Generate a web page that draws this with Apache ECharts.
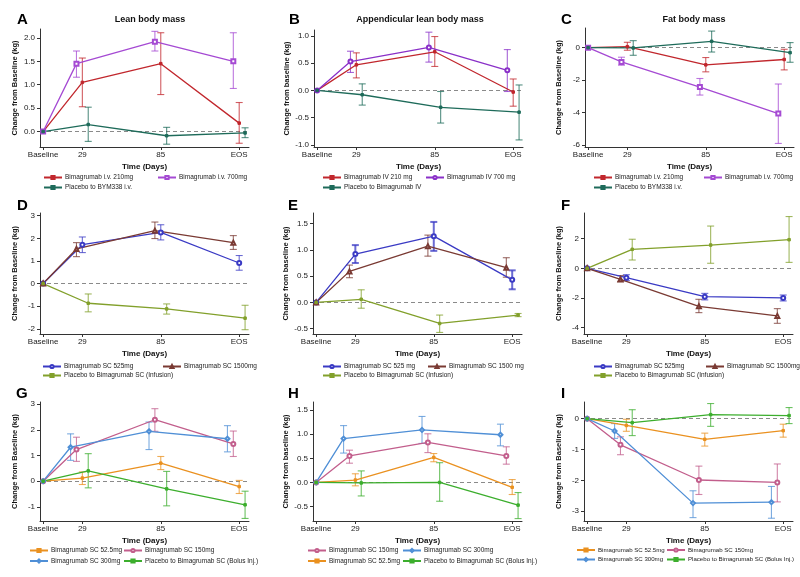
<!DOCTYPE html>
<html><head><meta charset="utf-8">
<script src="https://cdn.jsdelivr.net/npm/echarts@6/dist/echarts.min.js"></script>
<style>html,body{margin:0;padding:0;background:#fff}#c{width:800px;height:577px}</style>
</head><body><div id="c"></div>
<script>
// ---------- shared x categories ----------
const xCats = ['Baseline', '29', '85', 'EOS'];
const xAt = [0, 1, 3, 5];

// ---------- A: Lean body mass ----------
const A_yTicks = [0, 0.5, 1, 1.5, 2];
const A_iv210 = [0, 1.05, 1.45, 0.18];
const A_iv210_lo = [0, 0.53, 0.79, -0.25];
const A_iv210_hi = [0, 1.57, 2.11, 0.62];
const A_iv700 = [0, 1.45, 1.92, 1.50];
const A_iv700_lo = [0, 1.16, 1.72, 0.92];
const A_iv700_hi = [0, 1.72, 2.14, 2.11];
const A_pbo = [0, 0.15, -0.09, -0.03];
const A_pbo_lo = [0, -0.21, -0.27, -0.13];
const A_pbo_hi = [0, 0.52, 0.09, 0.08];

// ---------- B: Appendicular lean body mass ----------
const B_yTicks = [-1, -0.5, 0, 0.5, 1];
const B_iv210 = [0, 0.47, 0.71, -0.03];
const B_iv210_lo = [0, 0.23, 0.44, -0.29];
const B_iv210_hi = [0, 0.69, 0.99, 0.21];
const B_iv700 = [0, 0.53, 0.79, 0.37];
const B_iv700_lo = [0, 0.33, 0.52, -0.02];
const B_iv700_hi = [0, 0.72, 1.07, 0.75];
const B_pbo = [0, -0.08, -0.31, -0.40];
const B_pbo_lo = [0, -0.27, -0.60, -0.91];
const B_pbo_hi = [0, 0.12, -0.02, 0.10];

// ---------- C: Fat body mass ----------
const C_yTicks = [-6, -4, -2, 0];
const C_iv210 = [0, 0.06, -1.06, -0.73];
const C_iv210_lo = [0, -0.16, -1.49, -1.37];
const C_iv210_hi = [0, 0.33, -0.61, -0.10];
const C_iv700 = [0, -0.88, -2.43, -4.06];
const C_iv700_lo = [0, -1.08, -2.92, -5.90];
const C_iv700_hi = [0, -0.59, -1.90, -2.24];
const C_pbo = [0, -0.02, 0.39, -0.31];
const C_pbo_lo = [0, -0.47, -0.27, -0.90];
const C_pbo_hi = [0, 0.43, 1.02, 0.31];

// ---------- D ----------
const D_yTicks = [-2, -1, 0, 1, 2, 3];
const D_sc525 = [0, 1.72, 2.26, 0.91];
const D_sc525_lo = [0, 1.37, 1.93, 0.59];
const D_sc525_hi = [0, 2.06, 2.60, 1.24];
const D_sc1500 = [0, 1.53, 2.34, 1.81];
const D_sc1500_lo = [0, 1.19, 1.99, 1.51];
const D_sc1500_hi = [0, 1.81, 2.72, 2.12];
const D_pbo = [0, -0.87, -1.12, -1.53];
const D_pbo_lo = [0, -1.25, -1.35, -2.04];
const D_pbo_hi = [0, -0.46, -0.90, -0.96];

// ---------- E ----------
const E_yTicks = [-0.5, 0, 0.5, 1, 1.5];
const E_sc525 = [0, 0.92, 1.26, 0.43];
const E_sc525_lo = [0, 0.75, 0.98, 0.25];
const E_sc525_hi = [0, 1.09, 1.53, 0.61];
const E_sc1500 = [0, 0.59, 1.07, 0.66];
const E_sc1500_lo = [0, 0.47, 0.88, 0.48];
const E_sc1500_hi = [0, 0.71, 1.28, 0.85];
const E_pbo = [0, 0.06, -0.40, -0.24];
const E_pbo_lo = [0, -0.11, -0.57, -0.27];
const E_pbo_hi = [0, 0.24, -0.24, -0.21];

// ---------- F ----------
const F_yTicks = [-4, -2, 0, 2];
const F_sc525 = [0, -0.63, -1.91, -2.00];
const F_sc525_lo = [0, -0.83, -2.13, -2.20];
const F_sc525_hi = [0, -0.43, -1.69, -1.80];
const F_sc1500 = [0, -0.74, -2.56, -3.21];
const F_sc1500_lo = [0, -0.92, -2.99, -3.71];
const F_sc1500_hi = [0, -0.49, -2.09, -2.72];
const F_pbo = [0, 1.28, 1.57, 1.93];
const F_pbo_lo = [0, 0.56, 0.34, 0.40];
const F_pbo_hi = [0, 1.96, 2.85, 3.49];

// ---------- G ----------
const G_yTicks = [-1, 0, 1, 2, 3];
const G_sc52 = [0, 0.12, 0.70, -0.21];
const G_sc52_lo = [0, -0.13, 0.45, -0.48];
const G_sc52_hi = [0, 0.36, 0.96, 0.03];
const G_sc150 = [0, 1.23, 2.39, 1.45];
const G_sc150_lo = [0, 0.77, 1.94, 0.96];
const G_sc150_hi = [0, 1.71, 2.82, 1.95];
const G_sc300 = [0, 1.32, 1.94, 1.65];
const G_sc300_lo = [0, 0.81, 1.23, 1.14];
const G_sc300_hi = [0, 1.84, 2.30, 2.16];
const G_pbo = [0, 0.40, -0.30, -0.92];
const G_pbo_lo = [0, -0.26, -0.96, -1.45];
const G_pbo_hi = [0, 1.07, 0.38, -0.39];

// ---------- H ----------
const H_yTicks = [-0.5, 0, 0.5, 1, 1.5];
const H_sc150 = [0, 0.55, 0.83, 0.55];
const H_sc150_lo = [0, 0.40, 0.62, 0.38];
const H_sc150_hi = [0, 0.67, 1.01, 0.74];
const H_sc300 = [0, 0.91, 1.09, 0.99];
const H_sc300_lo = [0, 0.61, 0.81, 0.76];
const H_sc300_hi = [0, 1.18, 1.37, 1.21];
const H_sc52 = [0, 0.05, 0.52, -0.10];
const H_sc52_lo = [0, -0.07, 0.43, -0.25];
const H_sc52_hi = [0, 0.18, 0.60, 0.06];
const H_pbo = [0, -0.01, 0.00, -0.47];
const H_pbo_lo = [0, -0.28, -0.39, -0.75];
const H_pbo_hi = [0, 0.24, 0.41, -0.21];

// ---------- I ----------
const I_yTicks = [-3, -2, -1, 0];
const I_sc52 = [0, -0.22, -0.67, -0.39];
const I_sc52_lo = [0, -0.41, -0.89, -0.60];
const I_sc52_hi = [0, -0.02, -0.47, -0.18];
const I_sc150 = [0, -0.85, -1.99, -2.07];
const I_sc150_lo = [0, -1.17, -2.46, -2.70];
const I_sc150_hi = [0, -0.59, -1.54, -1.47];
const I_sc300 = [0, -0.40, -2.74, -2.71];
const I_sc300_lo = [0, -0.64, -3.21, -3.23];
const I_sc300_hi = [0, -0.16, -2.34, -2.20];
const I_pbo = [0, -0.13, 0.13, 0.10];
const I_pbo_lo = [0, -0.55, -0.25, -0.16];
const I_pbo_hi = [0, 0.29, 0.49, 0.36];

// ---------- styles ----------
const FONT = 'Liberation Sans, Arial, sans-serif';
const RED = '#c1272d', VIO = '#a54ad3', VIO2 = '#8a30c8', TEAL = '#1e6b5a';
const BLUE = '#3a3ac4', BROWN = '#7a3a33', OLIVE = '#82a02b';
const ORANGE = '#ea9120', PINK = '#c25e8c', SKY = '#4f8fd6', GREEN = '#3cae2d';
const STEP = 0.15;
const OPEN = 4, DOT = 2.5;

function S(name, mean, lo, hi, color, symbol, size, off, col) {
  return {name, mean, lo, hi, color, symbol, size, off, col};
}

const panels = [
  {letter: 'A', title: 'Lean body mass', titleX: 145, left: 40, top: 29, bottom: 147, ymin: -0.33, ymax: 2.19, ticks: A_yTicks, dec: 1,
   yName: 'Change from Baseline (kg)', nameGap: 21, legL: [43, 174], legR: [157, 174], legGap: 3,
   series: [
     S('Bimagrumab i.v. 210mg', A_iv210, A_iv210_lo, A_iv210_hi, RED, 'rect', DOT, 0, 'L'),
     S('Bimagrumab i.v. 700mg', A_iv700, A_iv700_lo, A_iv700_hi, VIO, 'emptyRect', OPEN, -1, 'R'),
     S('Placebo to BYM338 i.v.', A_pbo, A_pbo_lo, A_pbo_hi, TEAL, 'rect', DOT, 1, 'L')]},
  {letter: 'B', title: 'Appendicular lean body mass', titleX: 415, left: 314, top: 30, bottom: 147, ymin: -1.04, ymax: 1.11, ticks: B_yTicks, dec: 1,
   yName: 'Change from baseline (kg)', nameGap: 23, legL: [322, 174], legR: [425, 174], legGap: 3,
   series: [
     S('Bimagrumab IV 210 mg', B_iv210, B_iv210_lo, B_iv210_hi, RED, 'rect', DOT, 0, 'L'),
     S('Bimagrumab IV 700 mg', B_iv700, B_iv700_lo, B_iv700_hi, VIO2, 'emptyCircle', OPEN, -1, 'R'),
     S('Placebo to Bimagrumab IV', B_pbo, B_pbo_lo, B_pbo_hi, TEAL, 'rect', DOT, 1, 'L')]},
  {letter: 'C', title: 'Fat body mass', titleX: 689, left: 585, top: 28, bottom: 147, ymin: -6.12, ymax: 1.21, ticks: C_yTicks, dec: 0,
   yName: 'Change from Baseline (kg)', nameGap: 22, legL: [593, 174], legR: [703, 174], legGap: 3,
   series: [
     S('Bimagrumab i.v. 210mg', C_iv210, C_iv210_lo, C_iv210_hi, RED, 'rect', DOT, 0, 'L'),
     S('Bimagrumab i.v. 700mg', C_iv700, C_iv700_lo, C_iv700_hi, VIO, 'emptyRect', OPEN, -1, 'R'),
     S('Placebo to BYM338 i.v.', C_pbo, C_pbo_lo, C_pbo_hi, TEAL, 'rect', DOT, 1, 'L')]},
  {letter: 'D', left: 40, top: 213, bottom: 334, ymin: -2.23, ymax: 3.12, ticks: D_yTicks, dec: 0,
   yName: 'Change from Baseline (kg)', nameGap: 21, legL: [42, 363], legR: [162, 363], legGap: 2,
   series: [
     S('Bimagrumab SC 525mg', D_sc525, D_sc525_lo, D_sc525_hi, BLUE, 'emptyCircle', OPEN, 0, 'L'),
     S('Bimagrumab SC 1500mg', D_sc1500, D_sc1500_lo, D_sc1500_hi, BROWN, 'emptyTriangle', OPEN, -1, 'R'),
     S('Placebo to Bimagrumab SC (Infusion)', D_pbo, D_pbo_lo, D_pbo_hi, OLIVE, 'rect', DOT, 1, 'L')]},
  {letter: 'E', left: 313, top: 213, bottom: 334, ymin: -0.60, ymax: 1.70, ticks: E_yTicks, dec: 1,
   yName: 'Change from baseline (kg)', nameGap: 22, legL: [322, 363], legR: [427, 363], legGap: 2,
   series: [
     S('Bimagrumab SC 525 mg', E_sc525, E_sc525_lo, E_sc525_hi, BLUE, 'emptyCircle', OPEN, 0, 'L'),
     S('Bimagrumab SC 1500 mg', E_sc1500, E_sc1500_lo, E_sc1500_hi, BROWN, 'emptyTriangle', OPEN, -1, 'R'),
     S('Placebo to Bimagrumab SC (Infusion)', E_pbo, E_pbo_lo, E_pbo_hi, OLIVE, 'rect', DOT, 1, 'L')]},
  {letter: 'F', left: 584, top: 213, bottom: 334, ymin: -4.43, ymax: 3.73, ticks: F_yTicks, dec: 0,
   yName: 'Change from Baseline (kg)', nameGap: 21, legL: [593, 363], legR: [705, 363], legGap: 2,
   series: [
     S('Bimagrumab SC 525mg', F_sc525, F_sc525_lo, F_sc525_hi, BLUE, 'emptyCircle', OPEN, 0, 'L'),
     S('Bimagrumab SC 1500mg', F_sc1500, F_sc1500_lo, F_sc1500_hi, BROWN, 'emptyTriangle', OPEN, -1, 'R'),
     S('Placebo to Bimagrumab SC (Infusion)', F_pbo, F_pbo_lo, F_pbo_hi, OLIVE, 'rect', DOT, 1, 'L')]},
  {letter: 'G', left: 40, top: 402, bottom: 521, ymin: -1.55, ymax: 3.08, ticks: G_yTicks, dec: 0,
   yName: 'Change from Baseline (kg)', nameGap: 21, legL: [29, 547], legR: [123, 547], legGap: 3.5,
   series: [
     S('Bimagrumab SC 52.5mg', G_sc52, G_sc52_lo, G_sc52_hi, ORANGE, 'rect', DOT, 0, 'L'),
     S('Bimagrumab SC 150mg', G_sc150, G_sc150_lo, G_sc150_hi, PINK, 'emptyCircle', OPEN, -1, 'R'),
     S('Bimagrumab SC 300mg', G_sc300, G_sc300_lo, G_sc300_hi, SKY, 'emptyDiamond', OPEN, -2, 'L'),
     S('Placebo to Bimagrumab SC (Bolus Inj.)', G_pbo, G_pbo_lo, G_pbo_hi, GREEN, 'rect', DOT, 1, 'R')]},
  {letter: 'H', left: 313, top: 402, bottom: 521, ymin: -0.80, ymax: 1.67, ticks: H_yTicks, dec: 1,
   yName: 'Change from baseline (kg)', nameGap: 22, legL: [307, 547], legR: [402, 547], legGap: 3.5,
   series: [
     S('Bimagrumab SC 150mg', H_sc150, H_sc150_lo, H_sc150_hi, PINK, 'emptyCircle', OPEN, -1, 'L'),
     S('Bimagrumab SC 300mg', H_sc300, H_sc300_lo, H_sc300_hi, SKY, 'emptyDiamond', OPEN, -2, 'R'),
     S('Bimagrumab SC 52.5mg', H_sc52, H_sc52_lo, H_sc52_hi, ORANGE, 'rect', DOT, 0, 'L'),
     S('Placebo to Bimagrumab SC (Bolus Inj.)', H_pbo, H_pbo_lo, H_pbo_hi, GREEN, 'rect', DOT, 1, 'R')]},
  {letter: 'I', left: 584, top: 402, bottom: 521, ymin: -3.32, ymax: 0.54, ticks: I_yTicks, dec: 0,
   yName: 'Change from Baseline (kg)', nameGap: 21, legL: [576, 547], legR: [666, 547], legGap: 3.5, legFont: 6.1,
   series: [
     S('Bimagrumab SC 52.5mg', I_sc52, I_sc52_lo, I_sc52_hi, ORANGE, 'rect', DOT, 0, 'L'),
     S('Bimagrumab SC 150mg', I_sc150, I_sc150_lo, I_sc150_hi, PINK, 'emptyCircle', OPEN, -1, 'R'),
     S('Bimagrumab SC 300mg', I_sc300, I_sc300_lo, I_sc300_hi, SKY, 'emptyDiamond', OPEN, -2, 'L'),
     S('Placebo to Bimagrumab SC (Bolus Inj.)', I_pbo, I_pbo_lo, I_pbo_hi, GREEN, 'rect', DOT, 1, 'R')]}
];

const XMIN = -0.08, XMAX = 5.25, GW = 209;
const letterTop = {A: 7, B: 7, C: 7, D: 193, E: 193, F: 193, G: 381, H: 381, I: 381};
const letterLeft = {A: 12, B: 284, C: 556, D: 12, E: 283, F: 556, G: 11, H: 283, I: 556};

const option = {
  animation: false,
  backgroundColor: '#fff',
  textStyle: {fontFamily: FONT},
  title: [], legend: [], grid: [], xAxis: [], yAxis: [], series: []
};

function errRender(color, lw) {
  return function (params, api) {
    const x = api.value(0), lo = api.value(1), hi = api.value(2);
    const p1 = api.coord([x, lo]), p2 = api.coord([x, hi]);
    const w = 3.5;
    const st = {stroke: color, lineWidth: lw, opacity: 0.75};
    return {type: 'group', children: [
      {type: 'line', shape: {x1: p1[0], y1: p1[1], x2: p2[0], y2: p2[1]}, style: st},
      {type: 'line', shape: {x1: p1[0] - w, y1: p1[1], x2: p1[0] + w, y2: p1[1]}, style: st},
      {type: 'line', shape: {x1: p2[0] - w, y1: p2[1], x2: p2[0] + w, y2: p2[1]}, style: st}
    ]};
  };
}

panels.forEach((p, gi) => {
  option.title.push({text: p.letter, left: letterLeft[p.letter], top: letterTop[p.letter],
    textStyle: {fontSize: 15, fontWeight: 'bold', color: '#000', fontFamily: FONT}});
  if (p.title) option.title.push({text: p.title, left: p.titleX, top: 10, textAlign: 'center',
    textStyle: {fontSize: 9, fontWeight: 'bold', color: '#111', fontFamily: FONT}});
  option.grid.push({left: p.left, top: p.top, width: GW, height: p.bottom - p.top});
  option.xAxis.push({
    type: 'value', gridIndex: gi, min: XMIN, max: XMAX,
    name: 'Time (Days)', nameLocation: 'middle', nameGap: 16,
    nameTextStyle: {fontSize: 8, fontWeight: 'bold', color: '#111', fontFamily: FONT},
    axisLine: {onZero: false, lineStyle: {color: '#333', width: 1}},
    axisTick: {show: true, length: 3, customValues: xAt, lineStyle: {color: '#333'}},
    axisLabel: {customValues: xAt, margin: 4, fontSize: 8, color: '#222', fontFamily: FONT,
      formatter: v => { const i = xAt.indexOf(Math.round(v)); return i >= 0 ? xCats[i] : ''; }},
    splitLine: {show: false}
  });
  option.yAxis.push({
    type: 'value', gridIndex: gi, min: p.ymin, max: p.ymax,
    name: p.yName, nameLocation: 'middle', nameGap: p.nameGap, nameRotate: 90,
    nameTextStyle: {fontSize: 7.5, fontWeight: 'bold', color: '#111', fontFamily: FONT},
    axisLine: {show: true, onZero: false, lineStyle: {color: '#333', width: 1}},
    axisTick: {show: true, length: 3, customValues: p.ticks, lineStyle: {color: '#333'}},
    axisLabel: {customValues: p.ticks, margin: 5, fontSize: 8, color: '#222', fontFamily: FONT,
      formatter: v => Number(v).toFixed(p.dec)},
    splitLine: {show: false}
  });
  const leftNames = [], rightNames = [];
  p.series.forEach((s, si) => {
    (s.col === 'L' ? leftNames : rightNames).push(s.name);
    const pts = s.mean.map((m, i) => [i === 0 ? xAt[i] : xAt[i] + s.off * STEP, m]);
    const ebs = [];
    for (let i = 1; i < s.mean.length; i++) ebs.push([xAt[i] + s.off * STEP, s.lo[i], s.hi[i]]);
    const lw = (p.letter === 'E' && s.color === BLUE) ? 2 : 1.1;
    option.series.push({
      type: 'custom', name: 'eb_' + p.letter + si, xAxisIndex: gi, yAxisIndex: gi,
      data: ebs, renderItem: errRender(s.color, lw), silent: true, z: 2,
      encode: {x: 0, y: [1, 2]}
    });
    const ser = {
      type: 'line', name: s.name, xAxisIndex: gi, yAxisIndex: gi, data: pts,
      symbol: s.symbol, symbolSize: s.size, showSymbol: true,
      lineStyle: {color: s.color, width: 1.3},
      itemStyle: {color: s.color, borderColor: s.color, borderWidth: 1},
      z: 3, silent: true
    };
    if (si === 0) {
      ser.markLine = {silent: true, symbol: 'none', label: {show: false},
        lineStyle: {type: [4, 3], color: '#8a8a8a', width: 1}, data: [{yAxis: 0}], z: 1};
    }
    option.series.push(ser);
  });
  const legBase = {orient: 'vertical', itemWidth: 18, itemHeight: 4, itemGap: p.legGap,
    textStyle: {fontSize: p.legFont || 6.5, color: '#222', fontFamily: FONT, padding: [0, 0, 0, -2]}, padding: 0,
    selectedMode: false};
  option.legend.push(Object.assign({}, legBase, {left: p.legL[0], top: p.legL[1], data: leftNames}));
  option.legend.push(Object.assign({}, legBase, {left: p.legR[0], top: p.legR[1], data: rightNames}));
});

const chart = echarts.init(document.getElementById('c'), null, {renderer: 'canvas'});
chart.setOption(option);
</script></body></html>
